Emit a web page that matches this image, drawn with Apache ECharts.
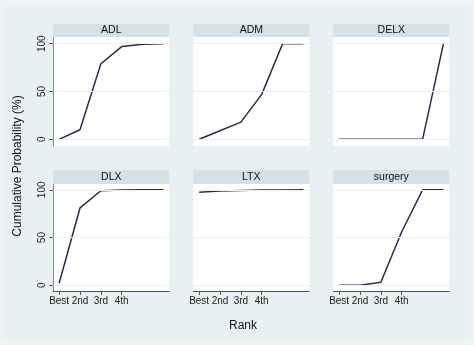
<!DOCTYPE html>
<html>
<head>
<meta charset="utf-8">
<script src="https://cdn.jsdelivr.net/npm/echarts@6/dist/echarts.min.js"></script>
<style>html,body{margin:0;padding:0;background:#eef4f4;}#c{width:474px;height:345px;}</style>
</head>
<body>
<div id="c"></div>
<script>
const ranks = [1, 2, 3, 4, 5, 6];
const tickLabels = ['Best', '2nd', '3rd', '4th'];
const treatments = ['ADL', 'ADM', 'DELX', 'DLX', 'LTX', 'surgery'];
const adl = [0, 10, 79, 97, 99.5, 100];
const adm = [0, 9, 18, 47, 100, 100];
const delx = [0, 0, 0, 0, 0, 100];
const dlx = [2, 81, 99, 99.7, 100, 100];
const ltx = [97.5, 98.8, 99.4, 99.7, 99.9, 100];
const surgery = [0, 0, 3, 56, 100, 100];
const yTicks = [0, 50, 100];

const seriesValues = [adl, adm, delx, dlx, ltx, surgery];
const font = 'Liberation Sans, Arial, Helvetica, sans-serif';
const colLeft = [53.3, 193.3, 333.3];
const plotW = 116;
const rowTop = [37, 184];
const rowH = [109, 107];
const rowMin = [-7, -6.1];
const rowMax = [107, 106.1];
const headH = [13, 14];

const grids = [], xAxes = [], yAxes = [], series = [], graphics = [];
graphics.push({type: 'rect', shape: {x: 3, y: 6, width: 468, height: 333}, style: {fill: '#e8f0f1'}, z: -10});
treatments.forEach((name, i) => {
  const r = Math.floor(i / 3), c = i % 3;
  grids.push({left: colLeft[c], top: rowTop[r], width: plotW, height: rowH[r], show: true, backgroundColor: '#ffffff', borderWidth: 0});
  xAxes.push({
    type: 'value', gridIndex: i, min: 0.72, max: 6.28,
    axisLine: {show: r === 1, onZero: false, lineStyle: {color: '#555', width: 1}},
    axisTick: {show: r === 1, length: 4, customValues: [1, 2, 3, 4], lineStyle: {color: '#555'}},
    axisLabel: {show: r === 1, customValues: [1, 2, 3, 4], formatter: v => tickLabels[Math.round(v) - 1] || '', fontSize: 10, color: '#222', fontFamily: font, margin: 5},
    splitLine: {show: false}
  });
  yAxes.push({
    type: 'value', gridIndex: i, min: rowMin[r], max: rowMax[r],
    axisLine: {show: c === 0, lineStyle: {color: '#888', width: 1}},
    axisTick: {show: c === 0, length: 4, customValues: yTicks, lineStyle: {color: '#555'}},
    axisLabel: {show: c === 0, customValues: yTicks, rotate: 90, fontSize: 10, color: '#222', fontFamily: font, margin: 6},
    splitLine: {show: false}
  });
  series.push({
    type: 'line', xAxisIndex: i, yAxisIndex: i,
    data: ranks.map((x, k) => [x, seriesValues[i][k]]),
    symbol: 'none', lineStyle: {color: '#222f4b', width: 1.5},
    markLine: {silent: true, symbol: 'none', label: {show: false}, animation: false,
      lineStyle: {color: '#e9eff1', width: 1, type: 'solid'},
      data: yTicks.map(v => ({yAxis: v}))},
    z: 3
  });
  graphics.push({type: 'rect', shape: {x: colLeft[c], y: rowTop[r] - headH[r], width: plotW, height: headH[r]}, style: {fill: '#d5e1e7'}});
  graphics.push({type: 'text', x: colLeft[c] + plotW / 2, y: rowTop[r] - headH[r] / 2, style: {text: name, fontSize: 10.5, fontFamily: font, fill: '#111', align: 'center', verticalAlign: 'middle'}});
});
graphics.push({type: 'text', x: 243, y: 326, style: {text: 'Rank', fontSize: 12, fontFamily: font, fill: '#111', align: 'center', verticalAlign: 'middle'}});
graphics.push({type: 'text', x: 18, y: 166, rotation: Math.PI / 2, style: {text: 'Cumulative Probability (%)', fontSize: 12, fontFamily: font, fill: '#111', align: 'center', verticalAlign: 'middle'}});

const chart = echarts.init(document.getElementById('c'), null, {renderer: 'canvas'});
chart.setOption({
  backgroundColor: '#eef4f4',
  animation: false,
  grid: grids, xAxis: xAxes, yAxis: yAxes, series: series, graphic: graphics
});
</script>
</body>
</html>
